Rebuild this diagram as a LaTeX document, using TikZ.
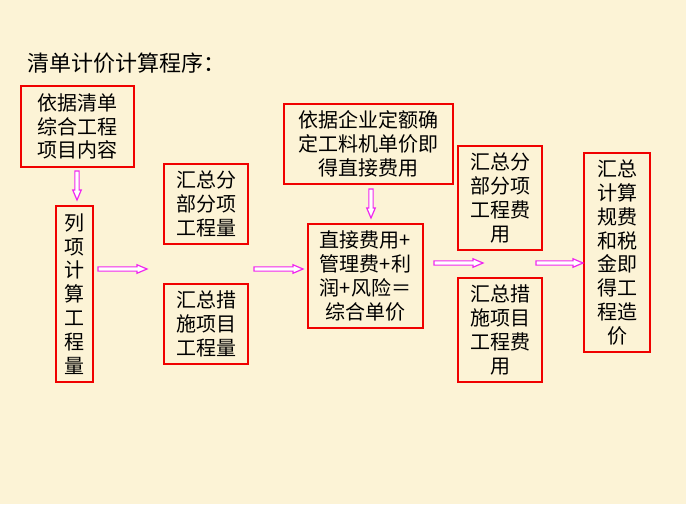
\documentclass[tikz,border=0pt]{standalone}
\usepackage{fontspec}
\setmainfont{Noto Sans CJK SC}
\usetikzlibrary{calc,positioning}

\definecolor{parch}{RGB}{252,243,214}
\definecolor{boxred}{RGB}{240,0,0}
\definecolor{arrmag}{RGB}{240,40,240}

\tikzset{
  box/.style={draw=boxred, line width=1pt, align=center, inner sep=0pt,
    font=\fontsize{15pt}{17.9pt}\selectfont},
  hollow/.style={draw=arrmag, fill=white, line width=0.9pt, line join=miter,
    to path={let \p1=(\tikztostart), \p2=(\tikztotarget),
        \n1={atan2(\y2-\y1,\x2-\x1)} in
      -- ($(\p1)+({\n1+90}:1.6pt)$)
      -- ($(\p2)+(\n1:-7.5pt)+({\n1+90}:1.6pt)$)
      -- ($(\p2)+(\n1:-7.5pt)+({\n1+90}:3.2pt)$)
      -- (\p2)
      -- ($(\p2)+(\n1:-7.5pt)+({\n1-90}:3.2pt)$)
      -- ($(\p2)+(\n1:-7.5pt)+({\n1-90}:1.6pt)$)
      -- ($(\p1)+({\n1-90}:1.6pt)$) -- cycle}}
}

\begin{document}
\begin{tikzpicture}[x=0.75pt, y=-0.75pt]
\fill[parch] (0,0) rectangle (686,504);
\useasboundingbox (0,0) rectangle (686,504);

\node[anchor=west, inner sep=0pt, font=\fontsize{16.5pt}{19pt}\selectfont] (title) at (27,63) {清单计价计算程序：};

% left column
\node[box, minimum width=84.75pt, minimum height=60.75pt] (basis) at (77.5,126.5) {依据清单\\综合工程\\项目内容};
\node[box, minimum width=27.75pt, minimum height=132pt] (list) at (74.5,294) {列\\项\\计\\算\\工\\程\\量};

% quantities
\node[box, minimum width=63pt, minimum height=60pt] (qtyA) at (206,204) {汇总分\\部分项\\工程量};
\node[box, minimum width=63pt, minimum height=60pt] (qtyB) at (206,324) {汇总措\\施项目\\工程量};

% unit price
\node[box, minimum width=126.75pt, minimum height=60pt] (quota) at (368.5,144) {依据企业定额确\\定工料机单价即\\得直接费用};
\node[box, minimum width=86.25pt, minimum height=78pt] (unit) at (365.5,276) {直接费用+\\管理费+利\\润+风险＝\\综合单价};

% costs
\node[box, minimum width=63pt, minimum height=78pt] (costA) at (500,198) {汇总分\\部分项\\工程费\\用};
\node[box, minimum width=63pt, minimum height=78pt] (costB) at (500,330) {汇总措\\施项目\\工程费\\用};
\node[box, minimum width=49.5pt, minimum height=149.25pt] (total) at (617,252.5) {汇总\\计算\\规费\\和税\\金即\\得工\\程造\\价};

% arrows
\coordinate (d1s) at (77,171);  \coordinate (d1e) at (77,200);
\coordinate (r1s) at (98,269);  \coordinate (r1e) at (147,269);
\coordinate (r2s) at (254,269); \coordinate (r2e) at (303,269);
\coordinate (d2s) at (371,189); \coordinate (d2e) at (371,218);
\coordinate (r3s) at (434,263); \coordinate (r3e) at (483,263);
\coordinate (r4s) at (536,263); \coordinate (r4e) at (583,263);
\draw[hollow] (d1s) to (d1e);
\draw[hollow] (r1s) to (r1e);
\draw[hollow] (r2s) to (r2e);
\draw[hollow] (d2s) to (d2e);
\draw[hollow] (r3s) to (r3e);
\draw[hollow] (r4s) to (r4e);
\end{tikzpicture}
\end{document}
